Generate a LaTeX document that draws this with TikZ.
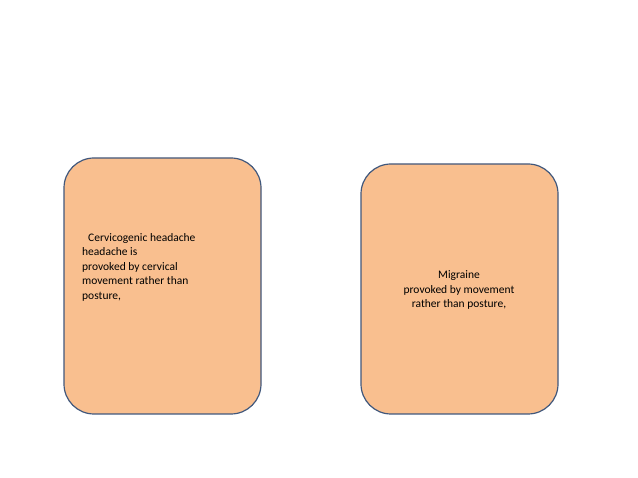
\documentclass[tikz,border=0pt]{standalone}
\usepackage{fontspec}
\setmainfont{Carlito}
\definecolor{boxfill}{HTML}{F9BF8F}
\definecolor{boxline}{HTML}{41587C}
\begin{document}
\begin{tikzpicture}[x=1pt,y=-1pt,
  card/.style={draw=boxline,fill=boxfill,line width=1.2pt,rounded corners=30pt},
  txt/.style={font=\fontsize{11.5}{14.5}\selectfont,inner sep=0pt}]
\useasboundingbox (0,0) rectangle (638,478);
\draw[card] (64,158) rectangle (261,414);
\draw[card] (361,164) rectangle (558,414);
\node[txt,align=left,anchor=north west] (lt) at (82,233) {\hspace*{6pt}Cervicogenic headache\\headache is\\provoked by cervical\\movement rather than\\posture,};
\node[txt,align=center] (rt) at (459,290) {Migraine\\provoked by movement\\rather than posture,};
\end{tikzpicture}
\end{document}
